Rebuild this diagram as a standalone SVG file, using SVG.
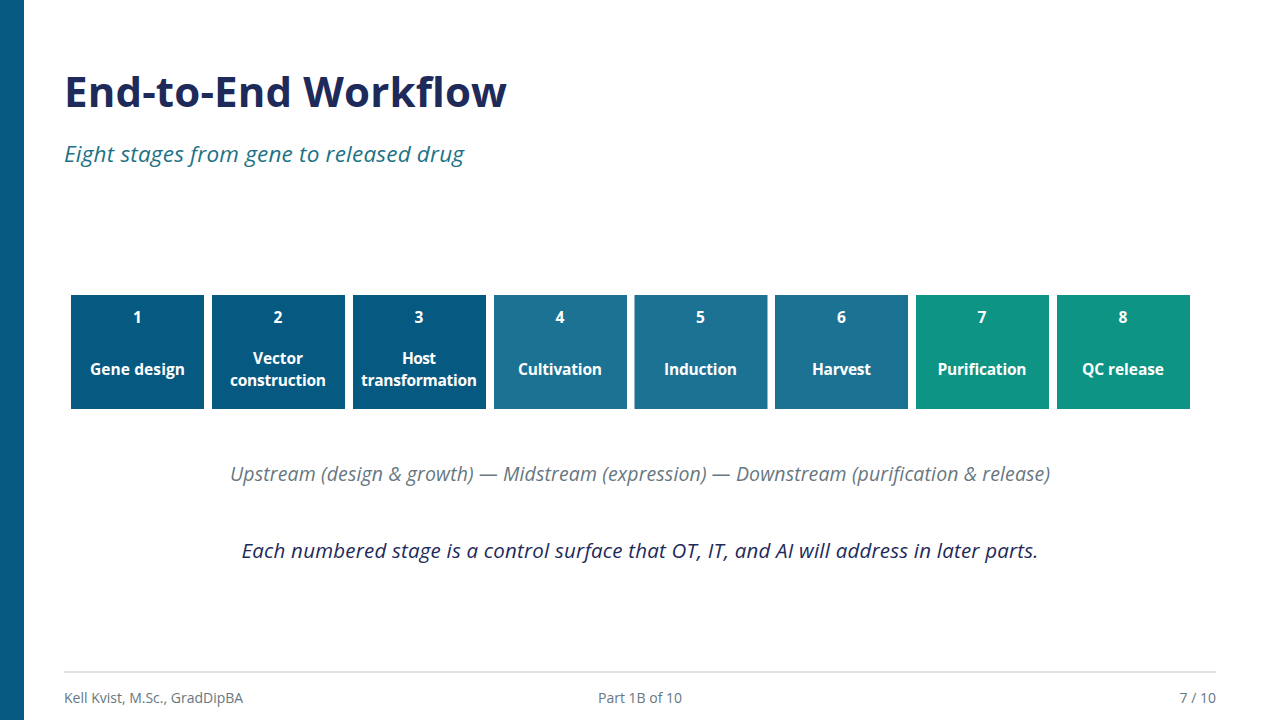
<svg xmlns="http://www.w3.org/2000/svg" width="1280" height="720" viewBox="0 0 1280 720">
<style>
text{font-family:"Open Sans","Noto Sans","Liberation Sans",sans-serif}
.n{fill:#fff;font-size:15.5px;font-weight:700;text-anchor:middle}
.b1{fill:#065A82}.b2{fill:#1C7293}.b3{fill:#0D9484}
.f{fill:#67777F;font-size:14px}
.i{font-style:italic}
</style>
<rect width="1280" height="720" fill="#fff"/>
<rect id="sidebar" width="24" height="720" fill="#065A82"/>
<text id="title" x="64" y="107" font-size="42" font-weight="700" fill="#1E2A5A" textLength="443">End-to-End Workflow</text>
<text id="subtitle" x="64" y="162" font-size="22.500" class="i" fill="#1C7286" textLength="400">Eight stages from gene to released drug</text>
<g id="node1"><rect class="b1" x="71" y="295" width="133" height="114"/><text class="n" x="137.500" y="323">1</text><text class="n" x="137.500" y="374.500" textLength="95">Gene design</text></g>
<g id="node2"><rect class="b1" x="212" y="295" width="133" height="114"/><text class="n" x="278" y="323">2</text><text class="n" x="278" y="363.500" textLength="50">Vector</text><text class="n" x="278" y="385.500" textLength="96">construction</text></g>
<g id="node3"><rect class="b1" x="353" y="295" width="133" height="114"/><text class="n" x="419" y="323">3</text><text class="n" x="419" y="363.500" textLength="34">Host</text><text class="n" x="419" y="385.500" textLength="116">transformation</text></g>
<g id="node4"><rect class="b2" x="494" y="295" width="133" height="114"/><text class="n" x="560" y="323">4</text><text class="n" x="560" y="374.500" textLength="84">Cultivation</text></g>
<g id="node5"><rect class="b2" x="634.500" y="295" width="133" height="114"/><text class="n" x="700.500" y="323">5</text><text class="n" x="700.500" y="374.500" textLength="73">Induction</text></g>
<g id="node6"><rect class="b2" x="775" y="295" width="133" height="114"/><text class="n" x="841.500" y="323">6</text><text class="n" x="841.500" y="374.500" textLength="59">Harvest</text></g>
<g id="node7"><rect class="b3" x="916" y="295" width="133" height="114"/><text class="n" x="982" y="323">7</text><text class="n" x="982" y="374.500" textLength="89">Purification</text></g>
<g id="node8"><rect class="b3" x="1057" y="295" width="133" height="114"/><text class="n" x="1123" y="323">8</text><text class="n" x="1123" y="374.500" textLength="82">QC release</text></g>
<g id="connectors"></g>
<text id="phases" x="640" y="481" font-size="19.500" class="i" text-anchor="middle" fill="#67777F" textLength="820">Upstream (design &amp; growth) — Midstream (expression) — Downstream (purification &amp; release)</text>
<text id="note" x="640" y="558" font-size="20.500" class="i" text-anchor="middle" fill="#1E2A5A" textLength="797">Each numbered stage is a control surface that OT, IT, and AI will address in later parts.</text>
<rect id="rule" x="64" y="671" width="1152" height="2" fill="#DDE2E4"/>
<text id="foot-l" x="64" y="703" class="f">Kell Kvist, M.Sc., GradDipBA</text>
<text id="foot-c" x="640" y="703" class="f" text-anchor="middle">Part 1B of 10</text>
<text id="foot-r" x="1216" y="703" class="f" text-anchor="end">7 / 10</text>
</svg>
